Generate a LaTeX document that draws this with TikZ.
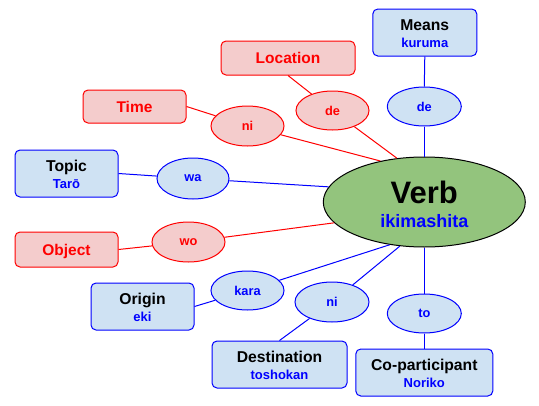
\documentclass[tikz,border=0pt]{standalone}
\usepackage{fontspec}
\setmainfont{Liberation Sans}
\usetikzlibrary{shapes.geometric}
\definecolor{bluefill}{HTML}{CFE2F3}
\definecolor{redfill}{HTML}{F4CCCC}
\definecolor{greenfill}{HTML}{93C47D}
\definecolor{myblue}{HTML}{0000FF}
\definecolor{myred}{HTML}{FF0000}
\newcommand\mysubtext[1]{\fontsize{13}{16.8}\selectfont\color{myblue}#1}
\begin{document}
\begin{tikzpicture}[x=1pt,y=-1pt,
  bluebox/.style={rectangle, draw=myblue, fill=bluefill, rounded corners=5pt, line width=1pt, inner sep=0pt, align=center, text height=29.6pt, text depth=0pt, font=\bfseries\fontsize{15.7}{16.8}\selectfont, text=black},
  redbox/.style={rectangle, draw=myred, fill=redfill, rounded corners=5pt, line width=1pt, inner sep=0pt, text height=11.2pt, text depth=0pt, font=\bfseries\fontsize{15.5}{16.8}\selectfont, text=myred},
  blueell/.style={ellipse, draw=myblue, fill=bluefill, line width=1pt, inner sep=0pt, font=\bfseries\fontsize{12.8}{14}\selectfont, text=myblue},
  redell/.style={ellipse, draw=myred, fill=redfill, line width=1pt, inner sep=0pt, font=\bfseries\fontsize{12.8}{14}\selectfont, text=myred},
  verbell/.style={ellipse, draw=black, fill=greenfill, line width=1pt, inner sep=0pt, align=center, text height=50pt, text depth=0pt, font=\bfseries\fontsize{18}{24}\selectfont},
  blueline/.style={draw=myblue, line width=1pt},
  redline/.style={draw=myred, line width=1pt},
]
\useasboundingbox (0,0) rectangle (539,405);

% central verb
\node[verbell, minimum width=202pt, minimum height=90pt] (verb) at (424.3,202)
  {{\fontsize{31}{24}\selectfont Verb}\\{\color{myblue}ikimashita}};

% blue boxes
\node[bluebox, minimum width=104pt, minimum height=47pt] (means) at (424.8,32.5) {Means\\\mysubtext{kuruma}};
\node[bluebox, minimum width=103pt, minimum height=47pt] (topic) at (66.5,173.5) {Topic\\\mysubtext{Tarō}};
\node[bluebox, minimum width=103pt, minimum height=47pt] (origin) at (142.5,306.5) {Origin\\\mysubtext{eki}};
\node[bluebox, minimum width=135pt, minimum height=47pt] (dest) at (279.5,364.5) {Destination\\\mysubtext{toshokan}};
\node[bluebox, minimum width=137pt, minimum height=47pt] (copart) at (424.3,372.5) {Co-participant\\\mysubtext{Noriko}};

% red boxes
\node[redbox, minimum width=134pt, minimum height=34pt] (location) at (288,58) {Location};
\node[redbox, minimum width=103pt, minimum height=33pt] (time) at (134.5,106.5) {Time};
\node[redbox, minimum width=103pt, minimum height=35pt] (object) at (66.5,249.5) {Object};

% particle ellipses
\node[blueell, minimum width=74pt, minimum height=39pt] (deB) at (424.3,106.5) {de};
\node[redell, minimum width=73pt, minimum height=39pt] (deR) at (332.5,110.5) {de};
\node[redell, minimum width=73pt, minimum height=40pt] (niR) at (247.5,126) {ni};
\node[blueell, minimum width=72pt, minimum height=41pt] (wa) at (193,178.5) {wa};
\node[redell, minimum width=73pt, minimum height=40pt] (wo) at (188.5,242) {wo};
\node[blueell, minimum width=73pt, minimum height=39pt] (kara) at (247.5,290.5) {kara};
\node[blueell, minimum width=74pt, minimum height=40pt] (niB) at (332,302) {ni};
\node[blueell, minimum width=74pt, minimum height=39pt] (to) at (424.3,313.5) {to};

% connectors
\draw[blueline] (means.south) -- (deB.north);
\draw[blueline] (deB.south) -- (verb.north);
\draw[redline] (location.south) -- (deR);
\draw[redline] (deR) -- (verb.122.4);
\draw[redline] (time.east) -- (niR);
\draw[redline] (niR) -- (verb.137.9);
\draw[blueline] (topic.east) -- (wa);
\draw[blueline] (wa) -- (verb.171.7);
\draw[redline] (object.east) -- (wo);
\draw[redline] (wo) -- (verb.193.8);
\draw[blueline] (origin.east) -- (kara);
\draw[blueline] (kara) -- (verb.231.4);
\draw[blueline] (dest.north) -- (niB);
\draw[blueline] (niB) -- (verb.241.6);
\draw[blueline] (verb.south) -- (to.north);
\draw[blueline] (to.south) -- (copart.north);
\end{tikzpicture}
\end{document}
